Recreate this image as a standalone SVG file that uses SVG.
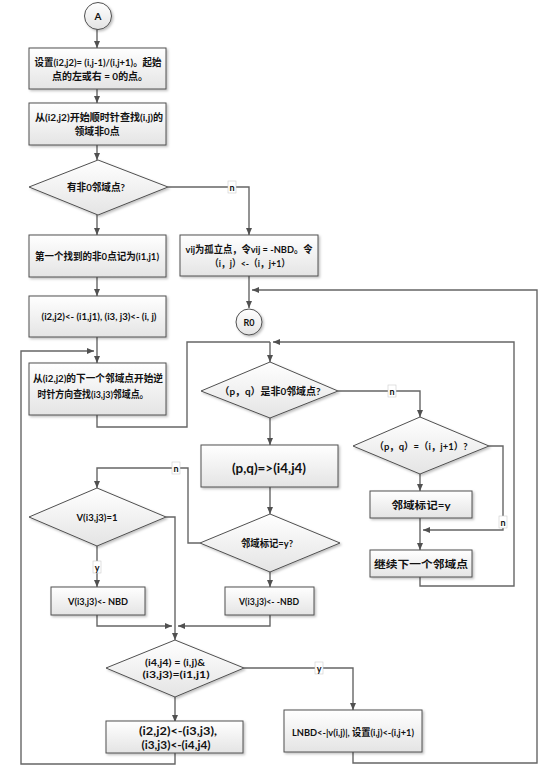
<svg xmlns="http://www.w3.org/2000/svg" width="560" height="775" viewBox="0 0 560 775">
<defs>
<linearGradient id="g" x1="0" y1="0" x2="0" y2="1"><stop offset="0" stop-color="#ffffff"/><stop offset="1" stop-color="#e4e4e4"/></linearGradient>
<filter id="sh" x="-10%" y="-10%" width="130%" height="140%"><feDropShadow dx="1.5" dy="1.5" stdDeviation="0.8" flood-color="#000" flood-opacity="0.25"/></filter>
<marker id="arr" viewBox="0 0 7 6" refX="7" refY="3" markerWidth="7" markerHeight="6" markerUnits="userSpaceOnUse" orient="auto"><path d="M0,0 L7,3 L0,6 z" fill="#505050"/></marker>
<style>
.n{fill:url(#g);stroke:#505050;stroke-width:1;filter:url(#sh)}
.c{fill:none;stroke:#666;stroke-width:1.4}
.a{marker-end:url(#arr)}
.t{font-family:Lato,"Noto Sans CJK SC",sans-serif;font-weight:bold;font-size:10px;fill:#111;text-anchor:middle;dominant-baseline:central}
.b{font-size:14px}
.m{font-size:11px}
.lb{fill:#fff;stroke:#ccc;stroke-width:0.6}
.l{font-family:Lato,sans-serif;font-weight:bold;font-size:9px;fill:#111;text-anchor:middle;dominant-baseline:central}
</style>
</defs>
<g id="connectors">
<path class="c a" d="M97,29 V48"/>
<path class="c a" d="M97,89 V103"/>
<path class="c a" d="M97,145 V160"/>
<path class="c a" d="M97,215 V235"/>
<path class="c a" d="M168,187 H249 V235"/>
<path class="c a" d="M97,277 V296"/>
<path class="c a" d="M97,337 V363"/>
<path class="c a" d="M249,276 V308"/>
<path class="c" d="M97,415 V427 H187 V342 H270"/>
<path class="c a" d="M270,342 V362"/>
<path class="c a" d="M420,577 V586 H514 V342 H273"/>
<path class="c a" d="M270,418 V445"/>
<path class="c a" d="M338,391 H420 V417"/>
<path class="c a" d="M420,474 V491"/>
<path class="c a" d="M489,446 H503 V530 H423"/>
<path class="c a" d="M420,518 V550"/>
<path class="c a" d="M270,487 V514"/>
<path class="c a" d="M200,543 H188 V468 H97 V488"/>
<path class="c a" d="M270,572 V587"/>
<path class="c a" d="M166,517 H175 V640"/>
<path class="c a" d="M97,546 V587"/>
<path class="c a" d="M97,615 V626 H172"/>
<path class="c a" d="M270,615 V626 H178"/>
<path class="c a" d="M175,697 V722"/>
<path class="c a" d="M244,668 H353 V710"/>
<path class="c a" d="M175,752 V764 H21 V351 H94"/>
<path class="c a" d="M353,752 V763 H537 V290 H252"/>
<rect class="lb" x="228" y="181" width="8" height="12"/><text class="l" x="232" y="187">n</text>
<rect class="lb" x="388" y="385" width="8" height="12"/><text class="l" x="392" y="391">n</text>
<rect class="lb" x="499" y="516" width="8" height="12"/><text class="l" x="503" y="522">n</text>
<rect class="lb" x="172" y="462" width="8" height="12"/><text class="l" x="176" y="468">n</text>
<rect class="lb" x="93" y="561" width="8" height="12"/><text class="l" x="97" y="567">y</text>
<rect class="lb" x="315" y="662" width="8" height="12"/><text class="l" x="319" y="668">y</text>
</g>
<g id="A"><circle class="n" cx="98" cy="16" r="13.5"/><text class="t" x="98" y="16">A</text></g>
<g id="box1"><rect class="n" x="29" y="48" width="137" height="41"/>
<text class="t" x="98" y="62" textLength="127" lengthAdjust="spacingAndGlyphs">设置(i2,j2)= (i,j-1)/(i,j+1)。起始</text>
<text class="t" x="100" y="76" textLength="96" lengthAdjust="spacingAndGlyphs">点的左或右 = 0的点。</text></g>
<g id="box2"><rect class="n" x="29" y="103" width="137" height="42"/>
<text class="t" x="99" y="117" textLength="128" lengthAdjust="spacingAndGlyphs">从(i2,j2)开始顺时针查找(i,j)的</text>
<text class="t" x="97" y="131" textLength="45" lengthAdjust="spacingAndGlyphs">领域非0点</text></g>
<g id="d1"><polygon class="n" points="29,187 98,160 168,187 98,215"/>
<text class="t" x="96" y="187" textLength="58" lengthAdjust="spacingAndGlyphs">有非0邻域点?</text></g>
<g id="box3"><rect class="n" x="29" y="235" width="137" height="42"/>
<text class="t" x="97" y="256" textLength="124" lengthAdjust="spacingAndGlyphs">第一个找到的非0点记为(i1,j1)</text></g>
<g id="box4"><rect class="n" x="29" y="296" width="137" height="41"/>
<text class="t" x="99" y="316" textLength="115" lengthAdjust="spacingAndGlyphs">(i2,j2)&lt;- (i1,j1), (i3, j3)&lt;- (i, j)</text></g>
<g id="boxIso"><rect class="n" x="180" y="235" width="138" height="41"/>
<text class="t" x="249" y="249" textLength="127" lengthAdjust="spacingAndGlyphs">vij为孤立点，令vij = -NBD。令</text>
<text class="t" x="250" y="263" textLength="80" lengthAdjust="spacingAndGlyphs">（i，j）&lt;-（i，j+1）</text></g>
<g id="R0"><circle class="n" cx="249" cy="322" r="13"/><text class="t" x="249" y="322" style="font-size:9px">R0</text></g>
<g id="box5"><rect class="n" x="29" y="363" width="137" height="52"/>
<text class="t" x="98" y="378" textLength="130" lengthAdjust="spacingAndGlyphs">从(i2,j2)的下一个邻域点开始逆</text>
<text class="t" x="93" y="394" textLength="111" lengthAdjust="spacingAndGlyphs">时针方向查找(i3,j3)邻域点。</text></g>
<g id="d2"><polygon class="n" points="201,391 270,362 338,391 270,418"/>
<text class="t" x="270" y="391" textLength="101" lengthAdjust="spacingAndGlyphs">（p，q）是非0邻域点?</text></g>
<g id="d3"><polygon class="n" points="353,446 420,417 489,446 420,474"/>
<text class="t" x="421" y="446" textLength="93" lengthAdjust="spacingAndGlyphs">（p，q）=（i，j+1）?</text></g>
<g id="boxPQ"><rect class="n" x="201" y="445" width="137" height="42"/>
<text class="t b" x="269" y="467" textLength="74" lengthAdjust="spacingAndGlyphs">(p,q)=&gt;(i4,j4)</text></g>
<g id="boxMark"><rect class="n" x="370" y="491" width="102" height="27"/>
<text class="t" x="421" y="505" textLength="59" lengthAdjust="spacingAndGlyphs">邻域标记=y</text></g>
<g id="boxNext"><rect class="n" x="370" y="550" width="102" height="27"/>
<text class="t" x="421" y="564" textLength="94" lengthAdjust="spacingAndGlyphs">继续下一个邻域点</text></g>
<g id="d5"><polygon class="n" points="200,543 270,514 340,543 270,572"/>
<text class="t" x="267" y="543" textLength="52" lengthAdjust="spacingAndGlyphs">邻域标记=y?</text></g>
<g id="dV"><polygon class="n" points="29,517 97,488 166,517 97,546"/>
<text class="t" x="97" y="517" textLength="41" lengthAdjust="spacingAndGlyphs">V(i3,j3)=1</text></g>
<g id="boxNBD"><rect class="n" x="51" y="587" width="94" height="28"/>
<text class="t" x="98" y="601" textLength="60" lengthAdjust="spacingAndGlyphs">V(i3,j3)&lt;- NBD</text></g>
<g id="boxNNBD"><rect class="n" x="225" y="587" width="89" height="28"/>
<text class="t" x="269" y="601" textLength="60" lengthAdjust="spacingAndGlyphs">V(i3,j3)&lt;- -NBD</text></g>
<g id="d4"><polygon class="n" points="106,668 175,640 244,668 175,697"/>
<text class="t" x="175" y="662" textLength="60" lengthAdjust="spacingAndGlyphs">(i4,j4) = (i,j)&amp;</text>
<text class="t" x="176" y="674" textLength="67" lengthAdjust="spacingAndGlyphs">(i3,j3)=(i1,j1)</text></g>
<g id="boxUpd"><rect class="n" x="106" y="721" width="137" height="32"/>
<text class="t m" x="178" y="730" textLength="78" lengthAdjust="spacingAndGlyphs">(i2,j2)&lt;-(i3,j3),</text>
<text class="t m" x="176" y="744" textLength="69" lengthAdjust="spacingAndGlyphs">(i3,j3)&lt;-(i4,j4)</text></g>
<g id="boxLNBD"><rect class="n" x="284" y="710" width="138" height="42"/>
<text class="t" x="353" y="732" textLength="122" lengthAdjust="spacingAndGlyphs">LNBD&lt;-|v(i,j)|, 设置(i,j)&lt;-(i,j+1)</text></g>
</svg>
